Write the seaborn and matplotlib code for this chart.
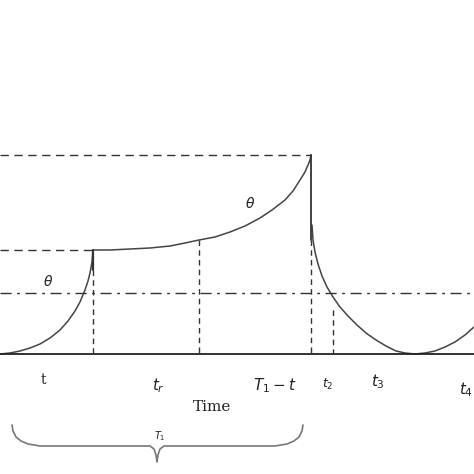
import matplotlib
matplotlib.use('Agg')
import matplotlib.pyplot as plt
import seaborn as sns
import pandas as pd

sns.set_style('white')

# curve points (pixel coords, y downwards)
rise_x = [0, 10, 20, 30, 40, 50, 60, 68, 75, 80, 85, 88, 90, 92, 93]
rise_y = [354, 353, 351, 348, 344, 338, 330, 321, 311, 302, 290, 281, 273, 262, 250]
mid_x = [93, 110, 130, 150, 170, 185, 199, 215, 230, 245, 260, 272, 285, 293, 300, 305, 308, 310, 311]
mid_y = [250, 250, 249, 248, 246, 243, 240, 237, 232, 226, 218, 210, 200, 191, 180, 172, 165, 160, 155]
fall_x = [312, 313, 315, 318, 322, 327, 333, 340, 348, 357, 366, 376, 386, 396, 405, 415, 425, 435, 445, 455, 465, 474]
fall_y = [225, 240, 252, 264, 276, 287, 297, 307, 316, 325, 333, 340, 346, 351, 353, 354, 353, 351, 347, 342, 335, 327]
brace_x = [12, 13, 16, 21, 28, 40, 150, 154, 156, 157, 158, 160, 164, 275, 287, 294, 299, 302, 303]
brace_y = [425, 431, 437, 441, 444, 446, 446, 449, 455, 462, 455, 449, 446, 446, 444, 441, 437, 431, 425]

labels = [(48, 282, r'$\theta$', 10), (250, 203, r'$\theta$', 10),
          (43, 380, 't', 10), (158, 386, r'$t_r$', 11),
          (275, 386, r'$T_1 - t$', 11), (328, 384, r'$t_2$', 9),
          (378, 382, r'$t_3$', 11), (466, 390, r'$t_4$', 11),
          (212, 407, 'Time', 11), (160, 436, r'$T_1$', 7)]

fig = plt.figure(figsize=(4.74, 4.74), dpi=100)
ax = fig.add_axes([0, 0, 1, 1])
ax.set_xlim(0, 474)
ax.set_ylim(474, 0)
ax.axis('off')

col = '#444444'
for xs, ys in [(rise_x, rise_y), (mid_x, mid_y), (fall_x, fall_y)]:
    sns.lineplot(data=pd.DataFrame({'x': xs, 'y': ys}), x='x', y='y', ax=ax,
                 color=col, lw=1.1, sort=False, estimator=None)
sns.lineplot(x=brace_x, y=brace_y, ax=ax, color='#777777', lw=1.2,
             sort=False, estimator=None)

# axis and guide lines
ax.plot([0, 474], [354, 354], color='#222222', lw=1.3)
ax.plot([311, 311], [155, 240], color='#333333', lw=1.3)
ax.plot([93, 93], [250, 270], color='#333333', lw=1.6)
ax.plot([0, 311], [155, 155], color='#333333', lw=1, ls=(0, (6, 4)))
ax.plot([0, 93], [250, 250], color='#333333', lw=1, ls=(0, (6, 4)))
ax.plot([0, 474], [293, 293], color='#333333', lw=1, ls=(0, (8, 4, 2, 4)))
for x, top in [(93, 270), (199, 240), (311, 240), (333, 310)]:
    ax.plot([x, x], [top, 354], color='#333333', lw=1, ls=(0, (4, 3)))

for x, y, s, fs in labels:
    ax.text(x, y, s, fontsize=fs, ha='center', va='center',
            family='DejaVu Serif', color='#222222')

fig.savefig('out.png', dpi=100)
